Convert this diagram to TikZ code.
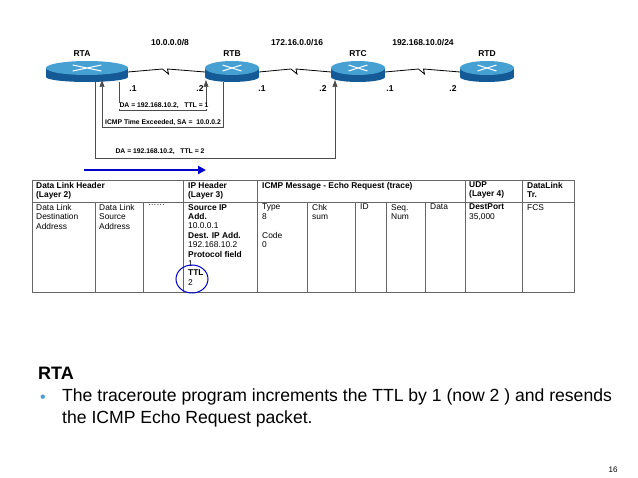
\documentclass[tikz,border=0pt]{standalone}
\usepackage{fontspec}
\setmainfont{Liberation Sans}
\usetikzlibrary{arrows.meta}
\begin{document}
\begin{tikzpicture}[x=1pt,y=-1pt,
  lbl/.style={font=\fontsize{8.5}{9}\selectfont\bfseries,inner sep=0pt},
  sm/.style={font=\fontsize{6.8}{7.5}\selectfont\bfseries,inner sep=0pt},
  cell/.style={font=\fontsize{8.4}{9.4}\selectfont,anchor=north west,inner sep=0pt,align=left},
  hcell/.style={cell,font=\fontsize{8.4}{9}\selectfont\bfseries},
  link/.style={thick,black},
  path/.style={line width=0.6pt,draw=black!70},
  tip/.style={-{Triangle[length=7pt,width=5pt]}}
]
\useasboundingbox (0,0) rectangle (638,478);
\definecolor{rtop}{RGB}{70,160,210}
\definecolor{rside}{RGB}{20,90,150}
\newcommand{\router}[4]{% name, x, y, halfwidth
  \fill[rside] (#2-#4,#3) rectangle (#2+#4,#3+9);
  \fill[rside] (#2,#3+9) ellipse ({#4} and 5);
  \fill[rtop] (#2,#3) ellipse ({#4} and 7);
  \draw[white,line width=1pt] (#2-#4*0.35,#3-3) -- (#2+#4*0.35,#3+3) (#2-#4*0.35,#3+3) -- (#2+#4*0.35,#3-3);
  \coordinate (#1) at (#2,#3+3);
}
\router{ra}{87}{68}{41}
\router{rb}{232}{68}{27}
\router{rc}{358}{68}{27}
\router{rd}{487}{68}{27}
\node[lbl] (la) at (82,54) {RTA};
\node[lbl] (lb) at (232,54) {RTB};
\node[lbl] (lc) at (358,54) {RTC};
\node[lbl] (ld) at (487,54) {RTD};
\node[lbl] (n1) at (170,43) {10.0.0.0/8};
\node[lbl] (n2) at (297,43) {172.16.0.0/16};
\node[lbl] (n3) at (423,43) {192.168.10.0/24};
\foreach \x/\t in {133/.1,200/.2,262/.1,323/.2,390/.1,453/.2}
  \node[lbl] at (\x,89) {\t};
% serial links
\foreach \a/\b in {128/205,259/331,385/460}{
  \draw[link] (\a,72) -- ({(\a+\b)/2-4},69) -- ({(\a+\b)/2+2},74) -- ({(\a+\b)/2+1},69) -- (\b,72);
}
% paths
\coordinate (p1a) at (119,82);
\coordinate (p1b) at (206,80);
\draw[path,tip] (p1a) -- (119,110) -- (206,110) -- (p1b);
\coordinate (p2a) at (223,82);
\coordinate (p2b) at (102,80);
\draw[path,tip] (p2a) -- (223,127) -- (102,127) -- (p2b);
\coordinate (p3a) at (95,82);
\coordinate (p3b) at (335,80);
\draw[path,tip] (p3a) -- (95,158) -- (335,158) -- (p3b);
\node[sm,fill=white,inner sep=0.5pt] at (164,106) {DA = 192.168.10.2,\ \ \ TTL = 1};
\node[sm,fill=white,inner sep=0.5pt] at (163,123) {ICMP Time Exceeded, SA =\ \ 10.0.0.2};
\node[sm] at (160,152) {DA = 192.168.10.2,\ \ \ TTL = 2};
\coordinate (ba) at (84,170);
\coordinate (bb) at (206,170);
\draw[blue!80!black,line width=2.5pt,-{Triangle[length=8pt,width=8pt]}] (ba) -- (bb);
% table
\draw[black!60,line width=0.8pt] (32,180) rectangle (574,292);
\draw[black!60] (32,202) -- (574,202);
\foreach \x in {183,257,465,522} \draw[black!60] (\x,180) -- (\x,292);
\foreach \x in {95,143,307,355,386,425} \draw[black!60] (\x,202) -- (\x,292);
\node[hcell] at (36,182) {Data Link Header\\(Layer 2)};
\node[hcell] at (188,182) {IP Header\\(Layer 3)};
\node[hcell] at (262,182) {ICMP Message - Echo Request (trace)};
\node[hcell] at (469,182) {UDP\\(Layer 4)};
\node[hcell] at (527,182) {DataLink\\Tr.};
\node[cell] at (36,204) {Data Link\\Destination\\Address};
\node[cell] at (99,204) {Data Link\\Source\\Address};
\node[cell] at (148,204) {\textellipsis\textellipsis};
\node[cell] at (188,204) {\textbf{Source IP}\\\textbf{Add.}\\10.0.0.1\\\textbf{Dest. IP Add.}\\192.168.10.2\\\textbf{Protocol field}\\1\\\textbf{TTL}\\2};
\node[cell] at (262,204) {Type\\8\\\\Code\\0};
\node[cell] at (312,204) {Chk\\sum};
\node[cell] at (360,204) {ID};
\node[cell] at (391,204) {Seq.\\Num};
\node[cell] at (430,204) {Data};
\node[cell] at (469,204) {\textbf{DestPort}\\35,000};
\node[cell] at (527,204) {FCS};
\draw[blue!80!black,line width=1pt] (192,279) ellipse (16 and 14);
% bottom text
\node[anchor=west,inner sep=0pt,font=\fontsize{18}{20}\selectfont\bfseries] (rta) at (38,373) {RTA};
\node[anchor=west,inner sep=0pt,text=rtop,font=\fontsize{16}{17}\selectfont] at (40,399) {\textbullet};
\node[anchor=north west,inner sep=0pt,align=left,font=\fontsize{17.6}{21.5}\selectfont] at (62,389) {The traceroute program increments the TTL by 1 (now 2 ) and resends\\the ICMP Echo Request packet.};
\node[inner sep=0pt,font=\fontsize{8}{9}\selectfont] at (613,470) {16};
\end{tikzpicture}
\end{document}
